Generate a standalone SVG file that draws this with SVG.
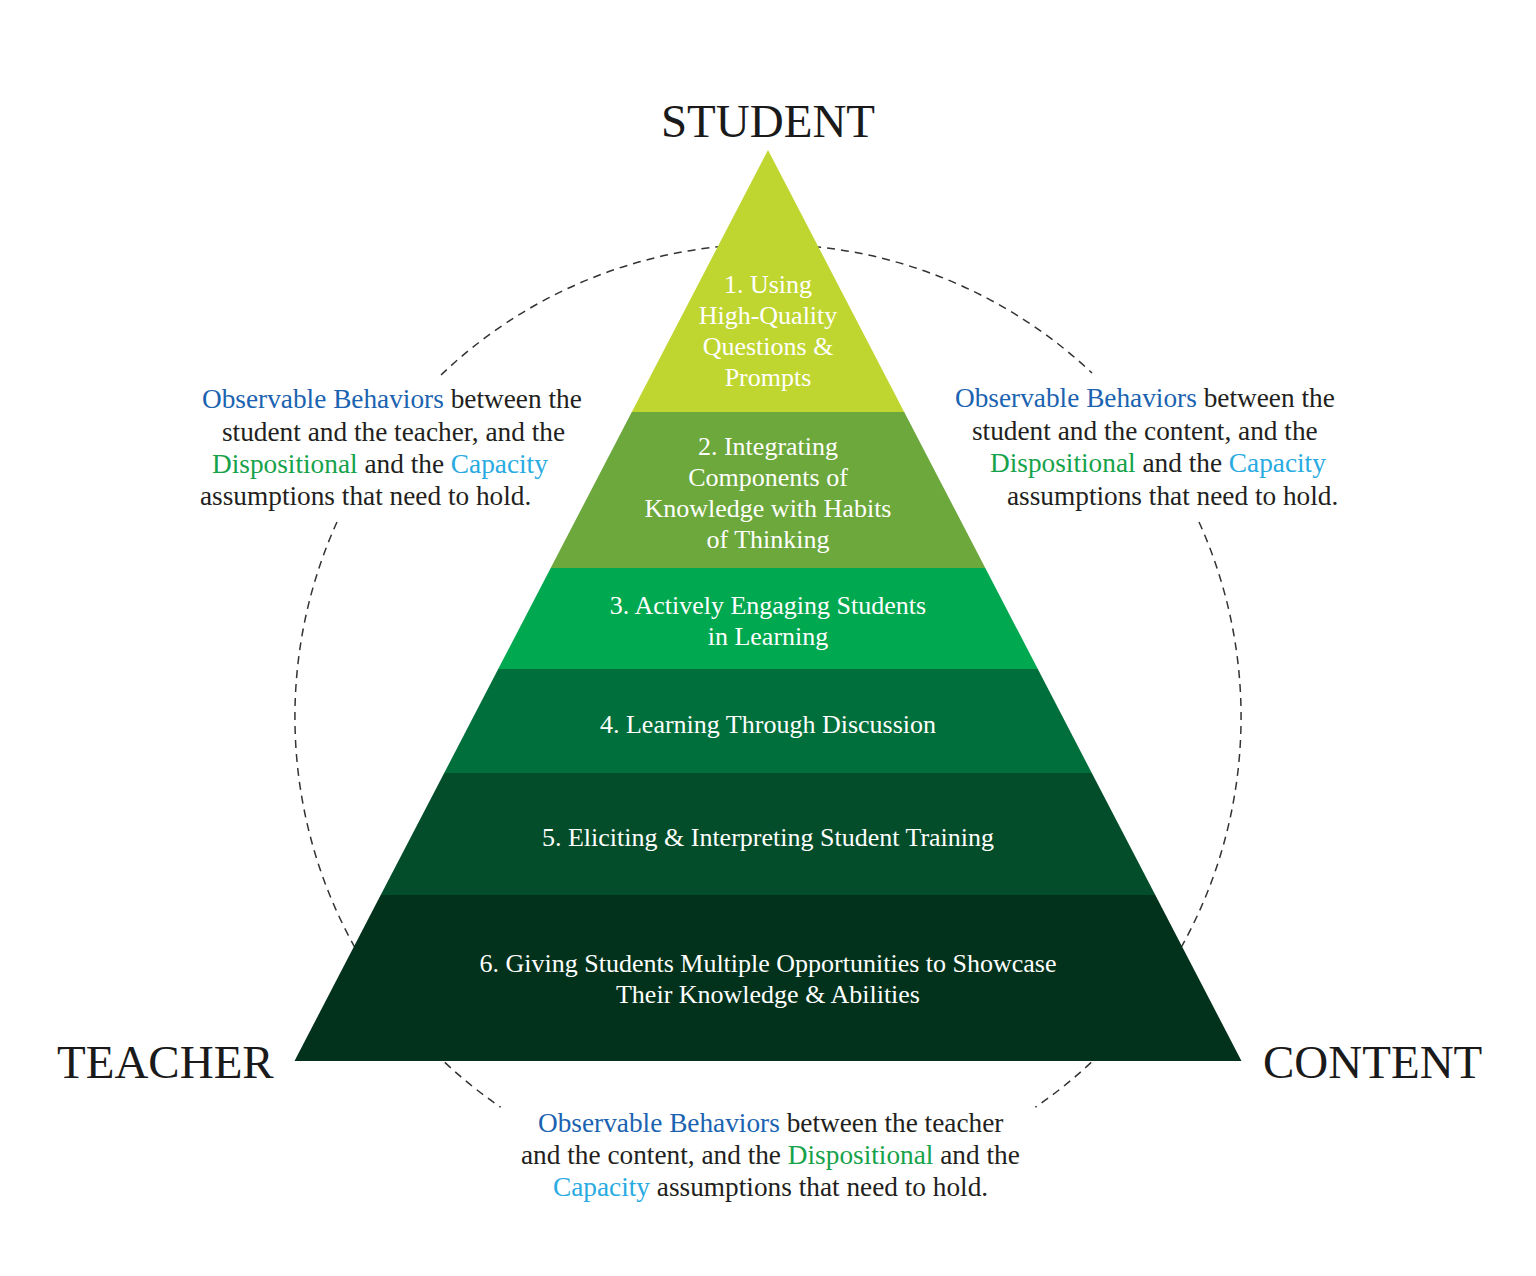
<svg xmlns="http://www.w3.org/2000/svg" width="1536" height="1276" viewBox="0 0 1536 1276">
<style>
.t{font-family:"Liberation Serif","Times New Roman",serif;}
.corner{font-size:47px;fill:#1a1a1a;}
.lay{font-size:26px;fill:#ffffff;text-anchor:middle;}
.note{font-size:27.3px;fill:#231f20;}
.ob{fill:#1b63b0;}
.di{fill:#16a24a;}
.ca{fill:#29abe2;}
.dash{fill:none;stroke:#333333;stroke-width:1.5;stroke-dasharray:8 6;}
</style>
<rect width="1536" height="1276" fill="#ffffff"/>
<g id="connectors">
<path class="dash" d="M 441 375 A 473 473 0 0 1 1092 373"/>
<path class="dash" d="M 337 522 A 473 473 0 0 0 500.6 1107.2"/>
<path class="dash" d="M 1199 522 A 473 473 0 0 1 1035.4 1107.2"/>
</g>
<g id="layer1"><polygon points="768,150 904.2,412 631.8,412" fill="#bfd630"/>
<text class="t lay"><tspan x="768" y="293">1. Using</tspan><tspan x="768" y="324">High-Quality</tspan><tspan x="768" y="355">Questions &amp;</tspan><tspan x="768" y="386">Prompts</tspan></text></g>
<g id="layer2"><polygon points="631.8,412 904.2,412 985.3,568 550.7,568" fill="#6ca83b"/>
<text class="t lay"><tspan x="768" y="455">2. Integrating</tspan><tspan x="768" y="486">Components of</tspan><tspan x="768" y="517">Knowledge with Habits</tspan><tspan x="768" y="548">of Thinking</tspan></text></g>
<g id="layer3"><polygon points="550.7,568 985.3,568 1037.8,669 498.2,669" fill="#00a84f"/>
<text class="t lay"><tspan x="768" y="614">3. Actively Engaging Students</tspan><tspan x="768" y="645">in Learning</tspan></text></g>
<g id="layer4"><polygon points="498.2,669 1037.8,669 1091.8,773 444.2,773" fill="#006f3b"/>
<text class="t lay" x="768" y="733">4. Learning Through Discussion</text></g>
<g id="layer5"><polygon points="444.2,773 1091.8,773 1155.3,895 380.7,895" fill="#034d2a"/>
<text class="t lay" x="768" y="846">5. Eliciting &amp; Interpreting Student Training</text></g>
<g id="layer6"><polygon points="380.7,895 1155.3,895 1241.5,1061 294.5,1061" fill="#03321c"/>
<text class="t lay"><tspan x="768" y="972">6. Giving Students Multiple Opportunities to Showcase</tspan><tspan x="768" y="1003">Their Knowledge &amp; Abilities</tspan></text></g>
<g id="student"><text class="t corner" x="768" y="137" text-anchor="middle">STUDENT</text></g>
<g id="teacher"><text class="t corner" x="57" y="1078">TEACHER</text></g>
<g id="content"><text class="t corner" x="1263" y="1078">CONTENT</text></g>
<g id="note-left"><text class="t note">
<tspan x="202" y="408"><tspan class="ob">Observable Behaviors</tspan> between the</tspan>
<tspan x="222" y="441">student and the teacher, and the</tspan>
<tspan x="212" y="473"><tspan class="di">Dispositional</tspan> and the <tspan class="ca">Capacity</tspan></tspan>
<tspan x="200" y="505">assumptions that need to hold.</tspan></text></g>
<g id="note-right"><text class="t note">
<tspan x="955" y="407"><tspan class="ob">Observable Behaviors</tspan> between the</tspan>
<tspan x="972" y="440">student and the content, and the</tspan>
<tspan x="990" y="472"><tspan class="di">Dispositional</tspan> and the <tspan class="ca">Capacity</tspan></tspan>
<tspan x="1007" y="505">assumptions that need to hold.</tspan></text></g>
<g id="note-bottom"><text class="t note">
<tspan x="538" y="1132"><tspan class="ob">Observable Behaviors</tspan> between the teacher</tspan>
<tspan x="521" y="1164">and the content, and the <tspan class="di">Dispositional</tspan> and the</tspan>
<tspan x="553" y="1196"><tspan class="ca">Capacity</tspan> assumptions that need to hold.</tspan></text></g>
</svg>
